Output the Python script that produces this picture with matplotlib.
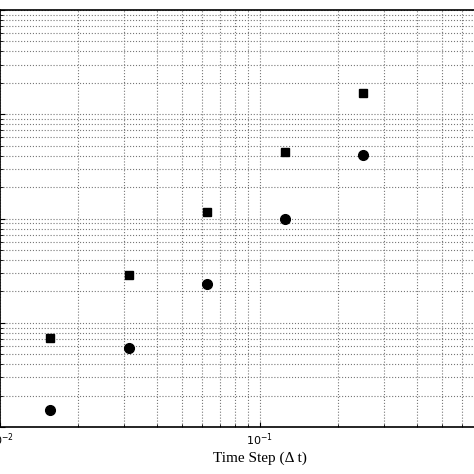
import matplotlib
matplotlib.use('Agg')
import matplotlib.pyplot as plt

dt = [0.015625, 0.03125, 0.0625, 0.125, 0.25]
err_square = [10**-3.144, 10**-2.538, 10**-1.942, 10**-1.365, 10**-0.798]
err_circle = [10**-3.837, 10**-3.240, 10**-2.625, 10**-2.0, 10**-1.394]

fig = plt.figure(figsize=(4.74, 4.74), dpi=100)
ax = fig.add_axes([0.0, 47 / 474, 520 / 474, 417 / 474])

ax.loglog(dt, err_square, 's', color='black', markersize=6)
ax.loglog(dt, err_circle, 'o', color='black', markersize=7)

ax.set_xlim(0.01, 1)
ax.set_ylim(1e-4, 1)
ax.grid(True, which='both', linestyle=':', color='#777777', linewidth=0.8)
ax.tick_params(which='both', direction='in', labelsize=8)
ax.set_xlabel('Time Step (Δ t)', family='Liberation Serif', fontsize=11, labelpad=2)
for s in ax.spines.values():
    s.set_linewidth(1.2)

fig.savefig('out.png', dpi=100)
